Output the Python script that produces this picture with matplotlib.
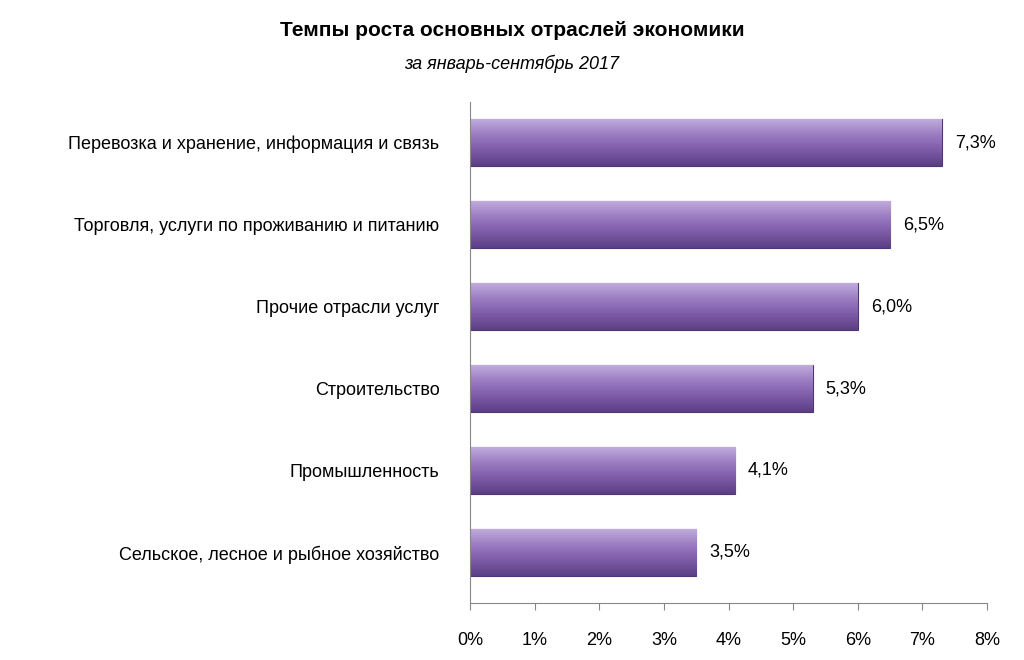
import matplotlib
matplotlib.use("Agg")
import matplotlib.pyplot as plt
import numpy as np
from matplotlib.colors import LinearSegmentedColormap

categories = ["Перевозка и хранение, информация и связь",
              "Торговля, услуги по проживанию и питанию",
              "Прочие отрасли услуг",
              "Строительство",
              "Промышленность",
              "Сельское, лесное и рыбное хозяйство"]
values = [7.3, 6.5, 6.0, 5.3, 4.1, 3.5]
xticks = [0, 1, 2, 3, 4, 5, 6, 7, 8]

plt.rcParams["font.family"] = "Liberation Sans"
fig = plt.figure(figsize=(10.24, 6.6), dpi=100)
ax = fig.add_axes([0.459, 0.086, 0.505, 0.76])

y = np.arange(len(categories))[::-1]
bars = ax.barh(y, values, height=0.58, color="#7D5BA8", edgecolor="#4E3672", linewidth=0.8, zorder=2)
cmap = LinearSegmentedColormap.from_list("g", ["#5B3F84", "#7D5BA8", "#9C7EC4", "#C2AEDD"])
grad = np.linspace(0, 1, 100).reshape(-1, 1)
for b in bars:
    x0, y0, w, h = b.get_x(), b.get_y(), b.get_width(), b.get_height()
    im = ax.imshow(grad, cmap=cmap, aspect="auto", extent=(x0, x0 + w, y0, y0 + h),
                   origin="lower", zorder=2.5)
    im.set_clip_path(b)
for yi, v in zip(y, values):
    ax.text(v + 0.2, yi, f"{v:.1f}%".replace(".", ","), va="center", ha="left", fontsize=13)

ax.set_xlim(0, 8)
ax.set_ylim(-0.62, 5.5)
ax.set_xticks(xticks)
ax.set_xticklabels([f"{t}%" for t in xticks], fontsize=13)
ax.set_yticks(y)
ax.set_yticklabels(categories, fontsize=13)
ax.tick_params(axis="y", length=0, pad=22)
ax.tick_params(axis="x", length=5, color="#888888", pad=16)
for s in ["top", "right"]:
    ax.spines[s].set_visible(False)
for s in ["left", "bottom"]:
    ax.spines[s].set_color("#888888")

fig.text(0.5, 0.945, "Темпы роста основных отраслей экономики", ha="center", fontsize=15, fontweight="bold")
fig.text(0.5, 0.895, "за январь-сентябрь 2017", ha="center", fontsize=13, style="italic")
fig.savefig("out.png", dpi=100)
